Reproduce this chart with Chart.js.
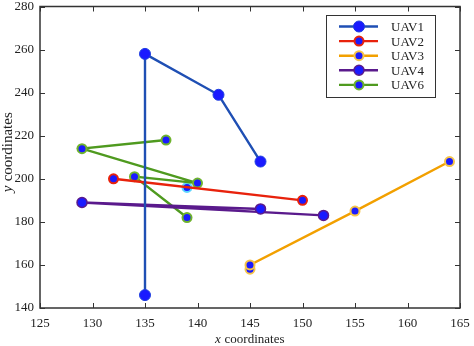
<!DOCTYPE html>
<html>
<head>
<meta charset="utf-8">
<script src="https://cdn.jsdelivr.net/npm/chart.js@4/dist/chart.umd.min.js"></script>
<style>
  html, body { margin: 0; padding: 0; background: #fff; }
  #wrap { width: 474px; height: 346px; position: relative; }
</style>
</head>
<body>
<div id="wrap"><canvas id="c" width="474" height="346"></canvas></div>
<script>
// =====================================================
// DATA
// =====================================================
const seriesNames = ['UAV1', 'UAV2', 'UAV3', 'UAV4', 'UAV6'];
const uav1 = [{x:135,y:146},{x:135,y:258},{x:142,y:239},{x:146,y:208}];
const uav2 = [{x:132,y:200},{x:150,y:190}];
const uav3 = [{x:145,y:158},{x:145,y:160},{x:155,y:185},{x:164,y:208}];
const uav4 = [{x:146,y:186},{x:129,y:189},{x:152,y:183}];
const uav6 = [{x:137,y:218},{x:129,y:214},{x:140,y:198},{x:134,y:201},{x:139,y:182}];
const uav5 = [{x:139,y:196}];   // lone marker, not in legend
const xTicks = [125,130,135,140,145,150,155,160,165];
const yTicks = [140,160,180,200,220,240,260,280];

const SERIF = '"Liberation Serif", "Times New Roman", serif';
const FILL = '#1a1aff';

function ds(label, data, lineColor, edge, r, bw) {
    return { label, data, borderColor: lineColor, borderWidth: 2.4, backgroundColor: FILL,
        pointBackgroundColor: FILL, pointBorderColor: edge, pointRadius: r, pointBorderWidth: bw,
        pointHoverRadius: r, tension: 0, fill: false };
}

const datasets = [
    ds('UAV1', uav1, '#1f4fb4', '#1f3fe0', 5.5, 1),
    ds('UAV2', uav2, '#e8220c', '#e8220c', 4.5, 2),
    ds('UAV3', uav3, '#f2a000', '#f5c44a', 4.5, 2),
    ds('UAV4', uav4, '#5a1a8c', '#5a1a8c', 5, 1.5),
    ds('UAV6', uav6, '#4f9a1f', '#6fb32e', 4.5, 2),
    Object.assign(ds('UAV5', uav5, '#6ad0ff', '#5cd6ff', 4.5, 2), { showLine: false })
];

// =====================================================
// PLUGINS: matlab frame, legend, axis titles
// =====================================================
const framePlugin = {
    id: 'frame',
    afterDatasetsDraw(chart) {
        const { ctx, chartArea: a, scales } = chart;
        ctx.save();
        ctx.strokeStyle = '#333';
        ctx.lineWidth = 1.5;
        ctx.strokeRect(a.left, a.top, a.right - a.left, a.bottom - a.top);
        ctx.lineWidth = 1;
        const L = 5;
        xTicks.forEach(v => {
            const px = Math.round(scales.x.getPixelForValue(v)) + 0.5;
            ctx.beginPath();
            ctx.moveTo(px, a.bottom); ctx.lineTo(px, a.bottom - L);
            ctx.moveTo(px, a.top); ctx.lineTo(px, a.top + L);
            ctx.stroke();
        });
        yTicks.forEach(v => {
            const py = Math.round(scales.y.getPixelForValue(v)) + 0.5;
            ctx.beginPath();
            ctx.moveTo(a.left, py); ctx.lineTo(a.left + L, py);
            ctx.moveTo(a.right, py); ctx.lineTo(a.right - L, py);
            ctx.stroke();
        });

        // legend
        const bx = 326, by = 15, bw = 109, bh = 82;
        ctx.fillStyle = '#fff';
        ctx.fillRect(bx, by, bw, bh);
        ctx.strokeStyle = '#333';
        ctx.strokeRect(bx + 0.5, by + 0.5, bw, bh);
        seriesNames.forEach((name, i) => {
            const d = chart.data.datasets[i];
            const y = 26.5 + i * 14.6;
            ctx.strokeStyle = d.borderColor;
            ctx.lineWidth = 2.4;
            ctx.beginPath(); ctx.moveTo(339, y); ctx.lineTo(378, y); ctx.stroke();
            ctx.beginPath(); ctx.arc(359, y, d.pointRadius, 0, Math.PI * 2);
            ctx.fillStyle = FILL; ctx.fill();
            ctx.lineWidth = d.pointBorderWidth; ctx.strokeStyle = d.pointBorderColor; ctx.stroke();
            ctx.fillStyle = '#222';
            ctx.font = '13px ' + SERIF;
            ctx.textBaseline = 'middle';
            ctx.textAlign = 'left';
            ctx.fillText(name, 391, y + 1);
        });

        // axis titles with italic variable letter
        ctx.fillStyle = '#222';
        ctx.textBaseline = 'alphabetic';
        ctx.textAlign = 'left';
        const title = (v, size, cx, cy) => {
            ctx.font = 'italic ' + size + 'px ' + SERIF;
            const w1 = ctx.measureText(v).width;
            ctx.fillText(v, cx - (w1 + ctx.measureText(' coordinates').width) / 2, cy);
            const sx = cx - (w1 + (ctx.font = size + 'px ' + SERIF, ctx.measureText(' coordinates').width)) / 2;
            ctx.fillText(' coordinates', sx + w1, cy);
        };
        title('x', 13, 250, 343);

        ctx.translate(12, 152);
        ctx.rotate(-Math.PI / 2);
        title('y', 15, 0, 0);
        ctx.restore();
    }
};

// =====================================================
// CHART
// =====================================================
new Chart(document.getElementById('c'), {
    type: 'line',
    data: { datasets },
    options: {
        responsive: false,
        animation: false,
        events: [],
        layout: { padding: { left: 0, right: 14, top: 4, bottom: 0 } },
        plugins: { legend: { display: false }, tooltip: { enabled: false } },
        scales: {
            x: {
                type: 'linear', min: 125, max: 165,
                afterBuildTicks: s => { s.ticks = xTicks.map(v => ({ value: v })); },
                afterFit: s => { s.height = 38; },
                grid: { display: false },
                border: { display: false },
                ticks: { color: '#222', padding: 0, maxRotation: 0, font: { family: SERIF, size: 13 } }
            },
            y: {
                type: 'linear', min: 140, max: 280,
                afterBuildTicks: s => { s.ticks = yTicks.map(v => ({ value: v })); },
                afterFit: s => { s.width = 40; },
                grid: { display: false },
                border: { display: false },
                ticks: { color: '#222', padding: -2, font: { family: SERIF, size: 13 } }
            }
        }
    },
    plugins: [framePlugin]
});
</script>
</body>
</html>
